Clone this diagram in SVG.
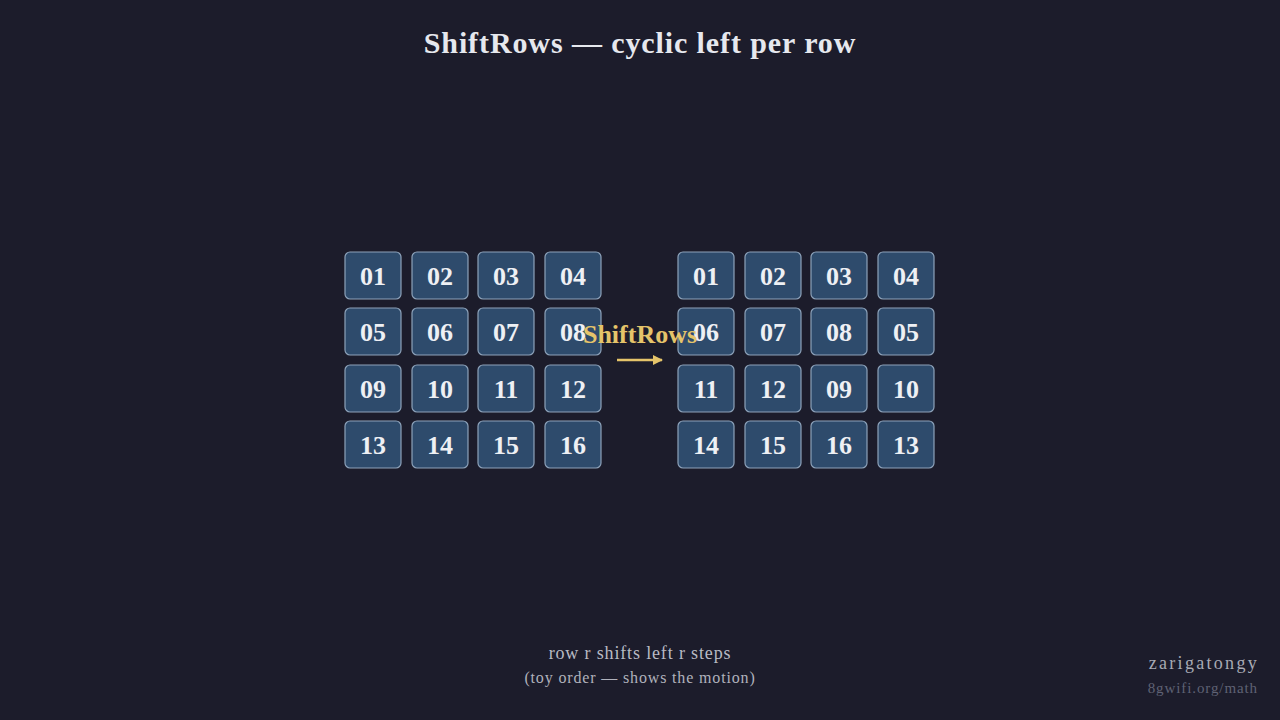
<svg xmlns="http://www.w3.org/2000/svg" width="1280" height="720" viewBox="0 0 1280 720">
<defs>
<style>
.cell rect{fill:#2e4b6c;stroke:#8da2ba;stroke-width:1.2}
.cell text{font-family:"Liberation Serif",serif;font-weight:bold;font-size:26px;fill:#eef0f4;text-anchor:middle}
.title{font-family:"Liberation Serif",serif;font-weight:bold;font-size:30px;letter-spacing:0.9px;fill:#e6e8ee;text-anchor:middle}
.lbl{font-family:"Liberation Serif",serif;font-weight:bold;font-size:26px;fill:#e5c46a;text-anchor:middle}
.cap{font-family:"Liberation Serif",serif;font-size:18px;letter-spacing:0.85px;fill:#b8bac4;text-anchor:middle}
.cap2{font-family:"Liberation Serif",serif;font-size:16px;letter-spacing:0.85px;fill:#b0b2bc;text-anchor:middle}
.wm1{font-family:"Liberation Serif",serif;font-size:18px;letter-spacing:2.3px;fill:#a8aab4;text-anchor:end}
.wm2{font-family:"Liberation Serif",serif;font-size:15px;letter-spacing:0.9px;fill:#5f6274;text-anchor:end}
</style>
<marker id="ah" viewBox="0 0 10 10" refX="9" refY="5" markerWidth="4" markerHeight="4" orient="auto"><path d="M0,0 L10,5 L0,10 z" fill="#e5c46a"/></marker>
</defs>
<rect width="1280" height="720" fill="#1c1c2b"/>
<text class="title" x="640" y="53">ShiftRows — cyclic left per row</text>

<g id="left-grid">
<g id="L01" class="cell"><rect x="345" y="252" width="56" height="47" rx="5"/><text x="373" y="285">01</text></g>
<g id="L02" class="cell"><rect x="412" y="252" width="56" height="47" rx="5"/><text x="440" y="285">02</text></g>
<g id="L03" class="cell"><rect x="478" y="252" width="56" height="47" rx="5"/><text x="506" y="285">03</text></g>
<g id="L04" class="cell"><rect x="545" y="252" width="56" height="47" rx="5"/><text x="573" y="285">04</text></g>
<g id="L05" class="cell"><rect x="345" y="308" width="56" height="47" rx="5"/><text x="373" y="341">05</text></g>
<g id="L06" class="cell"><rect x="412" y="308" width="56" height="47" rx="5"/><text x="440" y="341">06</text></g>
<g id="L07" class="cell"><rect x="478" y="308" width="56" height="47" rx="5"/><text x="506" y="341">07</text></g>
<g id="L08" class="cell"><rect x="545" y="308" width="56" height="47" rx="5"/><text x="573" y="341">08</text></g>
<g id="L09" class="cell"><rect x="345" y="365" width="56" height="47" rx="5"/><text x="373" y="398">09</text></g>
<g id="L10" class="cell"><rect x="412" y="365" width="56" height="47" rx="5"/><text x="440" y="398">10</text></g>
<g id="L11" class="cell"><rect x="478" y="365" width="56" height="47" rx="5"/><text x="506" y="398">11</text></g>
<g id="L12" class="cell"><rect x="545" y="365" width="56" height="47" rx="5"/><text x="573" y="398">12</text></g>
<g id="L13" class="cell"><rect x="345" y="421" width="56" height="47" rx="5"/><text x="373" y="454">13</text></g>
<g id="L14" class="cell"><rect x="412" y="421" width="56" height="47" rx="5"/><text x="440" y="454">14</text></g>
<g id="L15" class="cell"><rect x="478" y="421" width="56" height="47" rx="5"/><text x="506" y="454">15</text></g>
<g id="L16" class="cell"><rect x="545" y="421" width="56" height="47" rx="5"/><text x="573" y="454">16</text></g>
</g>

<g id="right-grid">
<g id="R01" class="cell"><rect x="678" y="252" width="56" height="47" rx="5"/><text x="706" y="285">01</text></g>
<g id="R02" class="cell"><rect x="745" y="252" width="56" height="47" rx="5"/><text x="773" y="285">02</text></g>
<g id="R03" class="cell"><rect x="811" y="252" width="56" height="47" rx="5"/><text x="839" y="285">03</text></g>
<g id="R04" class="cell"><rect x="878" y="252" width="56" height="47" rx="5"/><text x="906" y="285">04</text></g>
<g id="R05" class="cell"><rect x="678" y="308" width="56" height="47" rx="5"/><text x="706" y="341">06</text></g>
<g id="R06" class="cell"><rect x="745" y="308" width="56" height="47" rx="5"/><text x="773" y="341">07</text></g>
<g id="R07" class="cell"><rect x="811" y="308" width="56" height="47" rx="5"/><text x="839" y="341">08</text></g>
<g id="R08" class="cell"><rect x="878" y="308" width="56" height="47" rx="5"/><text x="906" y="341">05</text></g>
<g id="R09" class="cell"><rect x="678" y="365" width="56" height="47" rx="5"/><text x="706" y="398">11</text></g>
<g id="R10" class="cell"><rect x="745" y="365" width="56" height="47" rx="5"/><text x="773" y="398">12</text></g>
<g id="R11" class="cell"><rect x="811" y="365" width="56" height="47" rx="5"/><text x="839" y="398">09</text></g>
<g id="R12" class="cell"><rect x="878" y="365" width="56" height="47" rx="5"/><text x="906" y="398">10</text></g>
<g id="R13" class="cell"><rect x="678" y="421" width="56" height="47" rx="5"/><text x="706" y="454">14</text></g>
<g id="R14" class="cell"><rect x="745" y="421" width="56" height="47" rx="5"/><text x="773" y="454">15</text></g>
<g id="R15" class="cell"><rect x="811" y="421" width="56" height="47" rx="5"/><text x="839" y="454">16</text></g>
<g id="R16" class="cell"><rect x="878" y="421" width="56" height="47" rx="5"/><text x="906" y="454">13</text></g>
</g>

<g id="connectors">
<line x1="617" y1="360" x2="662" y2="360" stroke="#e5c46a" stroke-width="2.5" marker-end="url(#ah)"/>
</g>
<text class="lbl" x="640" y="343">ShiftRows</text>

<text class="cap" x="640" y="659">row r shifts left r steps</text>
<text class="cap2" x="640" y="683">(toy order — shows the motion)</text>
<text class="wm1" x="1259" y="669">zarigatongy</text>
<text class="wm2" x="1258" y="693">8gwifi.org/math</text>
</svg>
